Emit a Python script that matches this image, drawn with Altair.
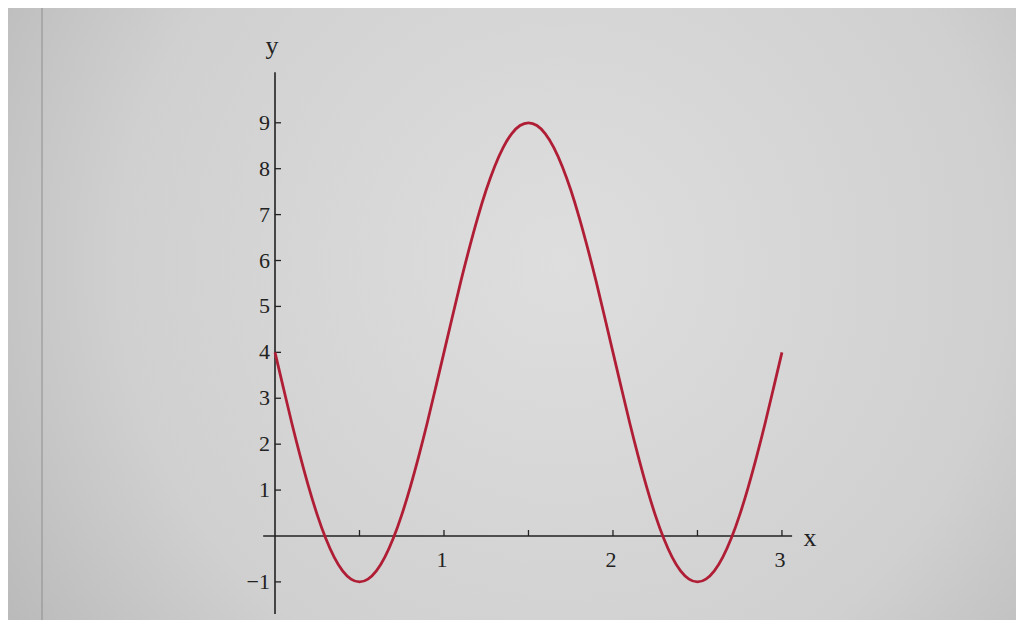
import altair as alt
import pandas as pd

# Curve values (x step 0.05)
xs = [0.00, 0.05, 0.10, 0.15, 0.20, 0.25, 0.30, 0.35, 0.40, 0.45,
      0.50, 0.55, 0.60, 0.65, 0.70, 0.75, 0.80, 0.85, 0.90, 0.95,
      1.00, 1.05, 1.10, 1.15, 1.20, 1.25, 1.30, 1.35, 1.40, 1.45,
      1.50, 1.55, 1.60, 1.65, 1.70, 1.75, 1.80, 1.85, 1.90, 1.95,
      2.00, 2.05, 2.10, 2.15, 2.20, 2.25, 2.30, 2.35, 2.40, 2.45,
      2.50, 2.55, 2.60, 2.65, 2.70, 2.75, 2.80, 2.85, 2.90, 2.95, 3.00]
ys = [4.00, 3.22, 2.45, 1.73, 1.06, 0.46, -0.05, -0.46, -0.76, -0.94,
      -1.00, -0.94, -0.76, -0.46, -0.05, 0.46, 1.06, 1.73, 2.45, 3.22,
      4.00, 4.78, 5.55, 6.27, 6.94, 7.54, 8.05, 8.46, 8.76, 8.94,
      9.00, 8.94, 8.76, 8.46, 8.05, 7.54, 6.94, 6.27, 5.55, 4.78,
      4.00, 3.22, 2.45, 1.73, 1.06, 0.46, -0.05, -0.46, -0.76, -0.94,
      -1.00, -0.94, -0.76, -0.46, -0.05, 0.46, 1.06, 1.73, 2.45, 3.22, 4.00]

y_ticks = [-1, 1, 2, 3, 4, 5, 6, 7, 8, 9]
y_labels = ["−1", "1", "2", "3", "4", "5", "6", "7", "8", "9"]
x_ticks = [0.5, 1.0, 1.5, 2.0, 2.5, 3.0]
x_label_ticks = [1, 2, 3]
x_labels = ["1", "2", "3"]

x_axis_range = [-0.07, 3.06]
y_axis_range = [-1.7, 10.1]

W, H = 1008, 612
xs_scale = alt.Scale(domain=[-1.58, 4.385], nice=False, zero=False)
ys_scale = alt.Scale(domain=[-1.83, 11.5], nice=False, zero=False)

INK = "#222222"
FONT = "Liberation Serif"

curve_df = pd.DataFrame({"x": xs, "y": ys})

bg = alt.Chart(pd.DataFrame({"a": [0]})).mark_rect(
    fill=alt.Gradient(
        gradient="radial",
        stops=[alt.GradientStop(color="#dedede", offset=0),
               alt.GradientStop(color="#d0d0d0", offset=0.55),
               alt.GradientStop(color="#ababab", offset=1)],
        x1=0.55, y1=0.45, r1=0, x2=0.55, y2=0.45, r2=0.8),
).encode(x=alt.value(0), x2=alt.value("width"), y=alt.value(0), y2=alt.value("height"))

bezel = alt.Chart(pd.DataFrame({"a": [0]})).mark_rule(
    color="#8c8c8c", strokeWidth=1.2, opacity=0.8
).encode(x=alt.value(34), y=alt.value(0), y2=alt.value("height"))

yaxis = alt.Chart(pd.DataFrame({"x": [0], "y1": [y_axis_range[0]], "y2": [y_axis_range[1]]})).mark_rule(
    color=INK, strokeWidth=1.6
).encode(x=alt.X("x:Q", scale=xs_scale, axis=None),
         y=alt.Y("y1:Q", scale=ys_scale, axis=None), y2="y2:Q")

xaxis = alt.Chart(pd.DataFrame({"y": [0], "x1": [x_axis_range[0]], "x2": [x_axis_range[1]]})).mark_rule(
    color=INK, strokeWidth=1.6
).encode(y=alt.Y("y:Q", scale=ys_scale, axis=None),
         x=alt.X("x1:Q", scale=xs_scale, axis=None), x2="x2:Q")

yt_df = pd.DataFrame({"v": y_ticks, "lab": y_labels, "z": [0] * len(y_ticks)})
ytick = alt.Chart(yt_df).mark_rule(color=INK, strokeWidth=1.3, x2Offset=6).encode(
    x=alt.X("z:Q", scale=xs_scale, axis=None), x2="z:Q",
    y=alt.Y("v:Q", scale=ys_scale, axis=None))
ylab = alt.Chart(yt_df).mark_text(
    align="right", baseline="middle", dx=-5, fontSize=22, font=FONT, color=INK
).encode(x=alt.X("z:Q", scale=xs_scale, axis=None),
         y=alt.Y("v:Q", scale=ys_scale, axis=None), text="lab:N")

xt_df = pd.DataFrame({"v": x_ticks, "z": [0] * len(x_ticks)})
xtick = alt.Chart(xt_df).mark_rule(color=INK, strokeWidth=1.3, y2Offset=-6).encode(
    x=alt.X("v:Q", scale=xs_scale, axis=None),
    y=alt.Y("z:Q", scale=ys_scale, axis=None), y2="z:Q")
xl_df = pd.DataFrame({"v": x_label_ticks, "lab": x_labels, "z": [0] * len(x_labels)})
xlab = alt.Chart(xl_df).mark_text(
    align="center", baseline="middle", dx=-2, dy=24, fontSize=22, font=FONT, color=INK
).encode(x=alt.X("v:Q", scale=xs_scale, axis=None),
         y=alt.Y("z:Q", scale=ys_scale, axis=None), text="lab:N")

ytitle = alt.Chart(pd.DataFrame({"x": [0], "y": [y_axis_range[1]], "t": ["y"]})).mark_text(
    align="center", baseline="middle", dx=-3, dy=-26, fontSize=26, font=FONT, color=INK
).encode(x=alt.X("x:Q", scale=xs_scale, axis=None),
         y=alt.Y("y:Q", scale=ys_scale, axis=None), text="t:N")
xtitle = alt.Chart(pd.DataFrame({"x": [x_axis_range[1]], "y": [0], "t": ["x"]})).mark_text(
    align="center", baseline="middle", dx=18, dy=2, fontSize=26, font=FONT, color=INK
).encode(x=alt.X("x:Q", scale=xs_scale, axis=None),
         y=alt.Y("y:Q", scale=ys_scale, axis=None), text="t:N")

curve = alt.Chart(curve_df).mark_line(
    color="#b01e36", strokeWidth=2.8, interpolate="natural"
).encode(x=alt.X("x:Q", scale=xs_scale, axis=None),
         y=alt.Y("y:Q", scale=ys_scale, axis=None))

chart = alt.layer(bg, bezel, yaxis, xaxis, ytick, xtick, ylab, xlab, ytitle, xtitle, curve).properties(
    width=W, height=H, padding=0, autosize=alt.AutoSizeParams(type="none"),
    background="#c4c4c4"
).configure_view(stroke=None)

chart.save("out.html", embed_options={"renderer": "svg", "actions": False})
